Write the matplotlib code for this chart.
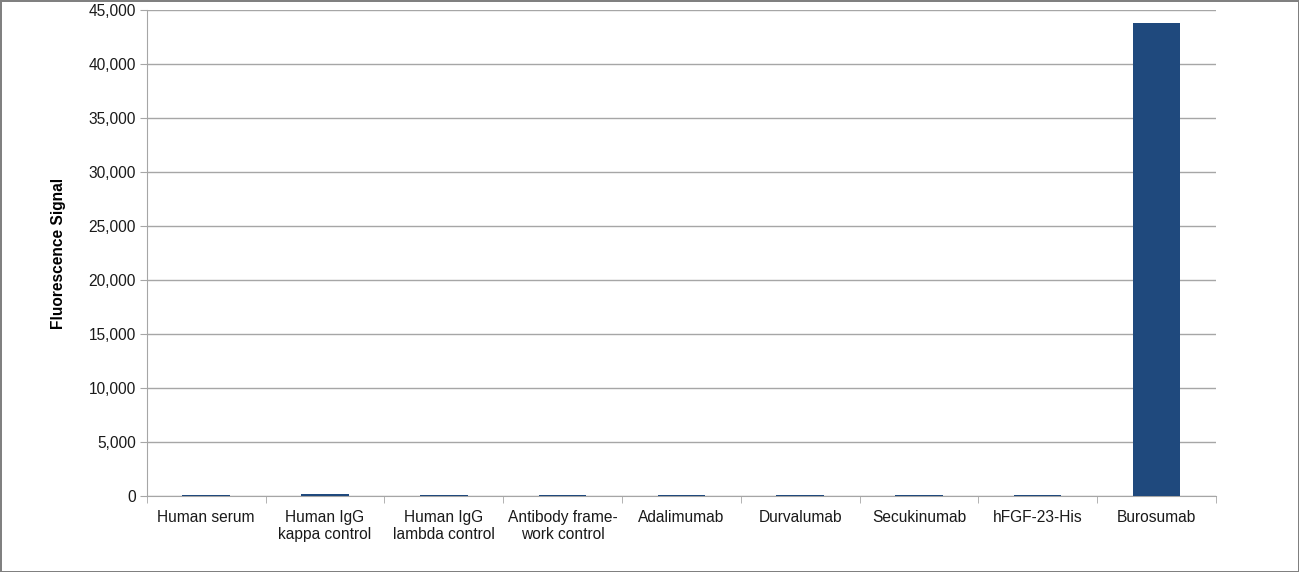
import matplotlib
import matplotlib.pyplot as plt
import numpy as np
from matplotlib.ticker import FuncFormatter, FixedLocator

plt.rcParams['font.family'] = ['Liberation Sans', 'DejaVu Sans']
plt.rcParams['font.size'] = 11.2

categories = ["Human serum", "Human IgG\nkappa control", "Human IgG\nlambda control",
              "Antibody frame-\nwork control", "Adalimumab", "Durvalumab",
              "Secukinumab", "hFGF-23-His", "Burosumab"]
signal = [100, 180, 90, 110, 100, 110, 80, 100, 43800]

fig = plt.figure(figsize=(12.99, 5.72), dpi=100, edgecolor='#808080', linewidth=2)
ax = fig.add_axes([0.113, 0.133, 0.823, 0.8495])

x = np.arange(len(categories))
ax.bar(x, signal, width=0.4, color='#1F497D', zorder=3)

ax.set_xlim(-0.5, len(categories) - 0.5)
ax.set_ylim(0, 45000)
ax.set_yticks(np.arange(0, 45001, 5000))
ax.yaxis.set_major_formatter(FuncFormatter(lambda v, p: f"{int(v):,}"))
ax.grid(axis='y', color='#a6a6a6', linewidth=1, zorder=0)

ax.set_xticks(x)
ax.set_xticklabels(categories)
ax.tick_params(axis='x', which='major', length=0, pad=10, colors='#1a1a1a')
ax.xaxis.set_minor_locator(FixedLocator(np.arange(-0.5, len(categories), 1)))
ax.tick_params(axis='x', which='minor', length=5, color='#a6a6a6', direction='out')
ax.tick_params(axis='y', length=5, color='#a6a6a6', direction='out', pad=3,
               labelcolor='#1a1a1a')

for s in ['top', 'right']:
    ax.spines[s].set_visible(False)
ax.spines['left'].set_color('#a6a6a6')
ax.spines['bottom'].set_color('#a6a6a6')

ax.set_ylabel('Fluorescence Signal', fontweight='bold', labelpad=16)

fig.savefig('out.png', dpi=100)
